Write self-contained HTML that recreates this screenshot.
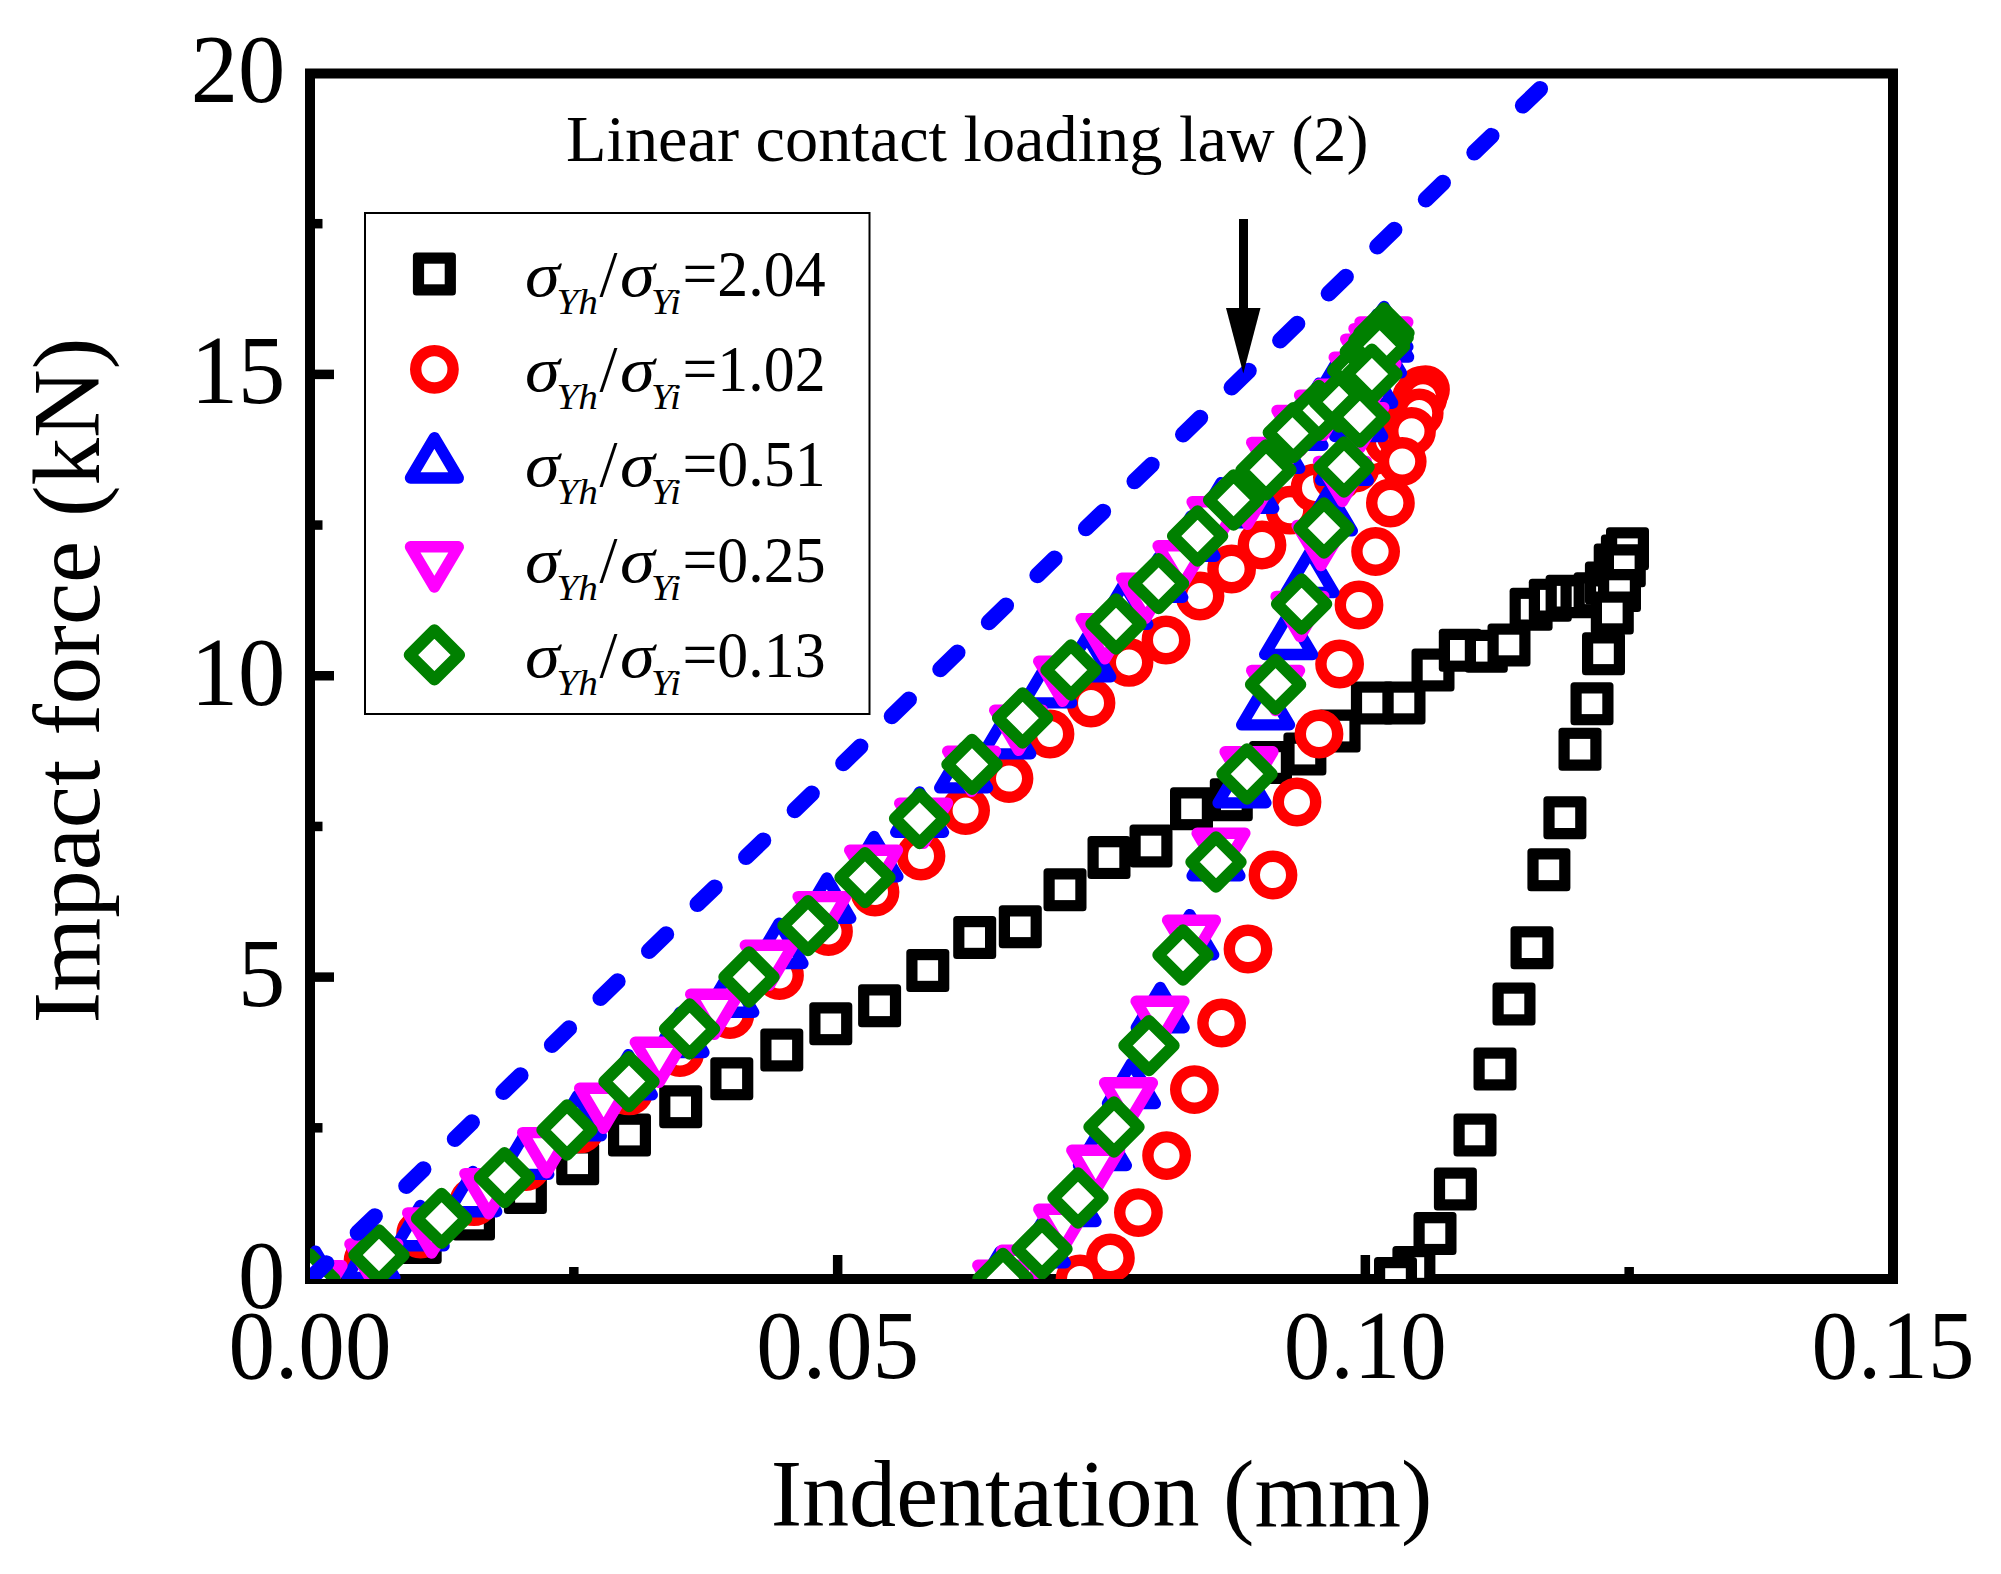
<!DOCTYPE html>
<html lang="en">
<head>
<meta charset="utf-8">
<title>Impact force vs indentation</title>
<style>
html,body{margin:0;padding:0;background:#fff;}
body{width:2001px;height:1574px;overflow:hidden;}
svg{display:block;}
text{font-family:"Liberation Serif","Times New Roman",Times,serif;fill:#000;}
.tk{font-size:98px;}
.ax{font-size:95px;}
.an{font-size:66.3px;}
.li{font-size:64px;font-style:italic;}
.lr{font-size:64.6px;}
.ls{font-size:35px;font-style:italic;}
</style>
</head>
<body>
<svg width="2001" height="1574" viewBox="0 0 2001 1574">
<defs>
<clipPath id="pc"><rect x="310.0" y="73.5" width="1583.0" height="1205.5"/></clipPath>
<g id="sq"><rect x="-21.5" y="-21.5" width="43" height="43" rx="3.5" ry="3.5" fill="#000"/><rect x="-10.3" y="-10.3" width="20.6" height="20.6" fill="#fff"/></g>
<circle id="ci" r="18.7" fill="#fff" stroke="#f00" stroke-width="11.4"/>
<path id="tu" d="M0,-26.9 L23.9,13.4 L-23.9,13.4 Z" fill="#fff" stroke="#00f" stroke-width="11.4" stroke-linejoin="round"/>
<path id="td" d="M0,26.9 L23.9,-13.3 L-23.9,-13.3 Z" fill="#fff" stroke="#f0f" stroke-width="11.4" stroke-linejoin="round"/>
<path id="di" d="M0,-24.7 L24.7,0 L0,24.7 L-24.7,0 Z" fill="#fff" stroke="#008000" stroke-width="12" stroke-linejoin="round"/>
</defs>
<rect width="2001" height="1574" fill="#fff"/>
<!-- frame and ticks -->
<rect x="310.0" y="73.5" width="1583.0" height="1205.5" fill="none" stroke="#000" stroke-width="10"/>
<g stroke="#000" stroke-width="9.5">
<line x1="310" y1="1127.81" x2="322.5" y2="1127.81"/>
<line x1="310" y1="977.12" x2="334.0" y2="977.12"/>
<line x1="310" y1="826.44" x2="322.5" y2="826.44"/>
<line x1="310" y1="675.75" x2="334.0" y2="675.75"/>
<line x1="310" y1="525.06" x2="322.5" y2="525.06"/>
<line x1="310" y1="374.38" x2="334.0" y2="374.38"/>
<line x1="310" y1="223.69" x2="322.5" y2="223.69"/>
<line x1="573.83" y1="1279" x2="573.83" y2="1267"/>
<line x1="837.67" y1="1279" x2="837.67" y2="1255"/>
<line x1="1101.50" y1="1279" x2="1101.50" y2="1267"/>
<line x1="1365.33" y1="1279" x2="1365.33" y2="1255"/>
<line x1="1629.17" y1="1279" x2="1629.17" y2="1267"/>
</g>
<!-- tick labels -->
<text class="tk" text-anchor="end" transform="translate(285.2,1307.5) scale(0.965,1)">0</text>
<text class="tk" text-anchor="end" transform="translate(285.2,1006.1) scale(0.965,1)">5</text>
<text class="tk" text-anchor="end" transform="translate(285.2,704.8) scale(0.965,1)">10</text>
<text class="tk" text-anchor="end" transform="translate(285.2,403.4) scale(0.965,1)">15</text>
<text class="tk" text-anchor="end" transform="translate(285.2,102.0) scale(0.965,1)">20</text>
<text class="tk" text-anchor="middle" transform="translate(310.0,1377.7) scale(0.95,1)">0.00</text>
<text class="tk" text-anchor="middle" transform="translate(837.7,1377.7) scale(0.95,1)">0.05</text>
<text class="tk" text-anchor="middle" transform="translate(1365.3,1377.7) scale(0.95,1)">0.10</text>
<text class="tk" text-anchor="middle" transform="translate(1893.0,1377.7) scale(0.95,1)">0.15</text>
<!-- axis titles -->
<text class="ax" style="font-size:94.2px" text-anchor="middle" x="1101.5" y="1526">Indentation (mm)</text>
<text class="ax" text-anchor="middle" transform="translate(98.6,680.5) rotate(-90)">Impact force (kN)</text>
<!-- data -->
<g clip-path="url(#pc)">
<g>
<use href="#sq" x="310.0" y="1279.0"/>
<use href="#sq" x="368.0" y="1265.0"/>
<use href="#sq" x="420.2" y="1242.4"/>
<use href="#sq" x="473.5" y="1219.0"/>
<use href="#sq" x="525.4" y="1192.4"/>
<use href="#sq" x="577.7" y="1163.8"/>
<use href="#sq" x="629.5" y="1135.1"/>
<use href="#sq" x="680.7" y="1106.8"/>
<use href="#sq" x="731.8" y="1078.8"/>
<use href="#sq" x="781.8" y="1050.0"/>
<use href="#sq" x="830.8" y="1023.8"/>
<use href="#sq" x="879.6" y="1005.8"/>
<use href="#sq" x="927.8" y="970.5"/>
<use href="#sq" x="974.7" y="937.5"/>
<use href="#sq" x="1020.3" y="926.8"/>
<use href="#sq" x="1065.0" y="889.8"/>
<use href="#sq" x="1109.0" y="857.6"/>
<use href="#sq" x="1151.0" y="846.0"/>
<use href="#sq" x="1191.5" y="808.8"/>
<use href="#sq" x="1231.3" y="799.8"/>
<use href="#sq" x="1270.5" y="762.5"/>
<use href="#sq" x="1304.9" y="754.1"/>
<use href="#sq" x="1339.1" y="731.1"/>
<use href="#sq" x="1372.4" y="703.0"/>
<use href="#sq" x="1404.0" y="703.0"/>
<use href="#sq" x="1433.0" y="670.0"/>
<use href="#sq" x="1460.3" y="650.3"/>
<use href="#sq" x="1486.3" y="651.3"/>
<use href="#sq" x="1509.0" y="645.0"/>
<use href="#sq" x="1531.1" y="609.2"/>
<use href="#sq" x="1550.3" y="600.2"/>
<use href="#sq" x="1567.1" y="596.2"/>
<use href="#sq" x="1582.0" y="596.7"/>
<use href="#sq" x="1595.1" y="593.8"/>
<use href="#sq" x="1606.4" y="583.1"/>
<use href="#sq" x="1615.2" y="565.0"/>
<use href="#sq" x="1622.4" y="555.9"/>
<use href="#sq" x="1627.5" y="548.7"/>
<use href="#sq" x="1624.3" y="565.8"/>
<use href="#sq" x="1619.5" y="590.6"/>
<use href="#sq" x="1612.3" y="613.0"/>
<use href="#sq" x="1603.5" y="653.8"/>
<use href="#sq" x="1592.0" y="703.8"/>
<use href="#sq" x="1580.0" y="749.2"/>
<use href="#sq" x="1564.9" y="817.7"/>
<use href="#sq" x="1548.9" y="869.8"/>
<use href="#sq" x="1532.0" y="947.7"/>
<use href="#sq" x="1514.0" y="1004.0"/>
<use href="#sq" x="1495.0" y="1069.0"/>
<use href="#sq" x="1475.0" y="1135.0"/>
<use href="#sq" x="1455.4" y="1189.0"/>
<use href="#sq" x="1435.0" y="1233.6"/>
<use href="#sq" x="1413.9" y="1267.5"/>
<use href="#sq" x="1395.5" y="1278.5"/>
</g>
<g>
<use href="#ci" x="310.0" y="1279.0"/>
<use href="#ci" x="368.0" y="1261.0"/>
<use href="#ci" x="420.6" y="1234.0"/>
<use href="#ci" x="473.9" y="1201.7"/>
<use href="#ci" x="526.0" y="1166.6"/>
<use href="#ci" x="580.0" y="1128.9"/>
<use href="#ci" x="629.0" y="1090.9"/>
<use href="#ci" x="679.9" y="1052.5"/>
<use href="#ci" x="729.9" y="1014.5"/>
<use href="#ci" x="779.5" y="975.5"/>
<use href="#ci" x="828.5" y="931.5"/>
<use href="#ci" x="875.0" y="892.0"/>
<use href="#ci" x="921.0" y="856.0"/>
<use href="#ci" x="965.6" y="810.6"/>
<use href="#ci" x="1009.0" y="778.6"/>
<use href="#ci" x="1050.0" y="734.0"/>
<use href="#ci" x="1091.0" y="703.0"/>
<use href="#ci" x="1129.0" y="662.4"/>
<use href="#ci" x="1166.0" y="640.0"/>
<use href="#ci" x="1200.0" y="596.0"/>
<use href="#ci" x="1231.6" y="569.0"/>
<use href="#ci" x="1262.0" y="545.0"/>
<use href="#ci" x="1290.1" y="510.2"/>
<use href="#ci" x="1315.0" y="487.9"/>
<use href="#ci" x="1337.4" y="477.2"/>
<use href="#ci" x="1355.0" y="468.0"/>
<use href="#ci" x="1372.0" y="451.0"/>
<use href="#ci" x="1389.0" y="441.0"/>
<use href="#ci" x="1401.0" y="435.0"/>
<use href="#ci" x="1408.0" y="424.0"/>
<use href="#ci" x="1412.0" y="410.0"/>
<use href="#ci" x="1416.5" y="398.0"/>
<use href="#ci" x="1421.5" y="390.5"/>
<use href="#ci" x="1425.5" y="389.6"/>
<use href="#ci" x="1423.0" y="397.3"/>
<use href="#ci" x="1419.2" y="413.0"/>
<use href="#ci" x="1411.5" y="431.3"/>
<use href="#ci" x="1402.2" y="461.5"/>
<use href="#ci" x="1390.4" y="503.0"/>
<use href="#ci" x="1375.6" y="551.5"/>
<use href="#ci" x="1359.0" y="605.0"/>
<use href="#ci" x="1339.6" y="664.0"/>
<use href="#ci" x="1319.0" y="734.0"/>
<use href="#ci" x="1297.0" y="802.0"/>
<use href="#ci" x="1273.0" y="875.0"/>
<use href="#ci" x="1248.0" y="949.0"/>
<use href="#ci" x="1221.6" y="1023.0"/>
<use href="#ci" x="1194.4" y="1089.6"/>
<use href="#ci" x="1166.6" y="1155.6"/>
<use href="#ci" x="1138.4" y="1212.6"/>
<use href="#ci" x="1110.4" y="1258.0"/>
<use href="#ci" x="1080.0" y="1279.0"/>
</g>
<g>
<use href="#tu" x="315.6" y="1278.0"/>
<use href="#tu" x="371.0" y="1264.0"/>
<use href="#tu" x="420.2" y="1232.4"/>
<use href="#tu" x="472.8" y="1198.3"/>
<use href="#tu" x="524.8" y="1161.0"/>
<use href="#tu" x="577.4" y="1122.5"/>
<use href="#tu" x="628.4" y="1081.5"/>
<use href="#tu" x="680.0" y="1039.1"/>
<use href="#tu" x="729.8" y="998.9"/>
<use href="#tu" x="779.0" y="950.1"/>
<use href="#tu" x="826.8" y="904.9"/>
<use href="#tu" x="874.0" y="863.3"/>
<use href="#tu" x="919.6" y="818.9"/>
<use href="#tu" x="963.6" y="774.5"/>
<use href="#tu" x="1006.8" y="740.5"/>
<use href="#tu" x="1047.8" y="689.5"/>
<use href="#tu" x="1086.8" y="663.5"/>
<use href="#tu" x="1123.8" y="610.9"/>
<use href="#tu" x="1158.8" y="583.9"/>
<use href="#tu" x="1191.0" y="542.9"/>
<use href="#tu" x="1221.0" y="509.5"/>
<use href="#tu" x="1249.8" y="494.9"/>
<use href="#tu" x="1275.8" y="454.9"/>
<use href="#tu" x="1299.0" y="432.0"/>
<use href="#tu" x="1319.0" y="410.0"/>
<use href="#tu" x="1336.0" y="390.0"/>
<use href="#tu" x="1350.0" y="373.0"/>
<use href="#tu" x="1361.0" y="359.0"/>
<use href="#tu" x="1370.0" y="349.0"/>
<use href="#tu" x="1377.0" y="341.0"/>
<use href="#tu" x="1382.0" y="336.0"/>
<use href="#tu" x="1384.0" y="333.4"/>
<use href="#tu" x="1384.7" y="343.6"/>
<use href="#tu" x="1377.5" y="359.5"/>
<use href="#tu" x="1368.8" y="389.8"/>
<use href="#tu" x="1358.6" y="423.1"/>
<use href="#tu" x="1344.4" y="466.9"/>
<use href="#tu" x="1328.4" y="517.5"/>
<use href="#tu" x="1309.8" y="579.1"/>
<use href="#tu" x="1288.6" y="641.1"/>
<use href="#tu" x="1265.6" y="711.5"/>
<use href="#tu" x="1242.0" y="789.5"/>
<use href="#tu" x="1216.0" y="862.5"/>
<use href="#tu" x="1189.8" y="941.5"/>
<use href="#tu" x="1160.2" y="1014.3"/>
<use href="#tu" x="1131.4" y="1090.1"/>
<use href="#tu" x="1102.4" y="1152.1"/>
<use href="#tu" x="1072.0" y="1208.1"/>
<use href="#tu" x="1041.4" y="1249.5"/>
<use href="#tu" x="1000.0" y="1278.3"/>
</g>
<g>
<use href="#td" x="318.0" y="1279.0"/>
<use href="#td" x="373.8" y="1257.3"/>
<use href="#td" x="431.6" y="1226.2"/>
<use href="#td" x="488.8" y="1186.9"/>
<use href="#td" x="546.6" y="1145.9"/>
<use href="#td" x="603.6" y="1101.5"/>
<use href="#td" x="659.2" y="1055.5"/>
<use href="#td" x="714.6" y="1007.5"/>
<use href="#td" x="769.2" y="958.5"/>
<use href="#td" x="822.0" y="909.9"/>
<use href="#td" x="873.6" y="863.5"/>
<use href="#td" x="923.6" y="816.5"/>
<use href="#td" x="971.6" y="764.5"/>
<use href="#td" x="1018.6" y="723.5"/>
<use href="#td" x="1062.6" y="674.5"/>
<use href="#td" x="1105.0" y="632.0"/>
<use href="#td" x="1145.6" y="591.5"/>
<use href="#td" x="1182.0" y="559.1"/>
<use href="#td" x="1216.0" y="515.1"/>
<use href="#td" x="1247.6" y="497.5"/>
<use href="#td" x="1275.6" y="455.7"/>
<use href="#td" x="1300.9" y="423.8"/>
<use href="#td" x="1323.5" y="408.5"/>
<use href="#td" x="1342.7" y="397.5"/>
<use href="#td" x="1358.1" y="370.5"/>
<use href="#td" x="1369.6" y="352.4"/>
<use href="#td" x="1377.9" y="341.9"/>
<use href="#td" x="1383.9" y="335.3"/>
<use href="#td" x="1380.0" y="348.0"/>
<use href="#td" x="1372.0" y="377.0"/>
<use href="#td" x="1360.0" y="421.0"/>
<use href="#td" x="1342.4" y="474.7"/>
<use href="#td" x="1321.0" y="538.7"/>
<use href="#td" x="1300.0" y="609.7"/>
<use href="#td" x="1275.6" y="683.7"/>
<use href="#td" x="1249.0" y="765.1"/>
<use href="#td" x="1221.0" y="846.5"/>
<use href="#td" x="1191.5" y="933.5"/>
<use href="#td" x="1160.0" y="1014.5"/>
<use href="#td" x="1128.5" y="1096.1"/>
<use href="#td" x="1095.7" y="1163.5"/>
<use href="#td" x="1062.7" y="1222.5"/>
<use href="#td" x="1025.6" y="1263.5"/>
<use href="#td" x="1001.7" y="1278.5"/>
</g>
<g>
<use href="#di" x="310.0" y="1279.0"/>
<use href="#di" x="379.0" y="1255.0"/>
<use href="#di" x="441.6" y="1218.4"/>
<use href="#di" x="504.5" y="1177.6"/>
<use href="#di" x="567.0" y="1130.0"/>
<use href="#di" x="629.0" y="1081.6"/>
<use href="#di" x="689.6" y="1029.0"/>
<use href="#di" x="749.0" y="977.0"/>
<use href="#di" x="808.0" y="925.6"/>
<use href="#di" x="865.0" y="877.6"/>
<use href="#di" x="919.6" y="818.6"/>
<use href="#di" x="972.0" y="764.4"/>
<use href="#di" x="1022.6" y="718.0"/>
<use href="#di" x="1071.0" y="670.0"/>
<use href="#di" x="1116.0" y="624.0"/>
<use href="#di" x="1158.6" y="583.6"/>
<use href="#di" x="1197.6" y="536.0"/>
<use href="#di" x="1233.6" y="500.0"/>
<use href="#di" x="1266.0" y="470.0"/>
<use href="#di" x="1293.3" y="432.6"/>
<use href="#di" x="1318.8" y="410.4"/>
<use href="#di" x="1339.0" y="402.0"/>
<use href="#di" x="1357.6" y="370.3"/>
<use href="#di" x="1370.3" y="351.6"/>
<use href="#di" x="1379.0" y="340.0"/>
<use href="#di" x="1384.0" y="332.9"/>
<use href="#di" x="1383.2" y="337.5"/>
<use href="#di" x="1379.6" y="346.5"/>
<use href="#di" x="1371.9" y="374.1"/>
<use href="#di" x="1359.8" y="417.0"/>
<use href="#di" x="1344.0" y="467.0"/>
<use href="#di" x="1324.0" y="528.0"/>
<use href="#di" x="1301.6" y="604.0"/>
<use href="#di" x="1275.6" y="684.4"/>
<use href="#di" x="1247.0" y="774.0"/>
<use href="#di" x="1216.0" y="862.0"/>
<use href="#di" x="1183.0" y="955.0"/>
<use href="#di" x="1149.0" y="1045.6"/>
<use href="#di" x="1114.0" y="1127.0"/>
<use href="#di" x="1078.0" y="1198.0"/>
<use href="#di" x="1042.0" y="1249.0"/>
<use href="#di" x="1003.0" y="1278.5"/>
</g>
<line x1="310.0" y1="1279.0" x2="1540.3956153028469" y2="88.59224219449538" stroke="#00f" stroke-width="16" stroke-linecap="round" stroke-dasharray="24 43.55" stroke-dashoffset="1.2"/>
</g>
<!-- annotation -->
<text class="an" x="566" y="161">Linear contact loading law (2)</text>
<path d="M1243.5,219 V310" stroke="#000" stroke-width="9" fill="none"/>
<path d="M1226,308 L1260.5,308 L1243.3,373.5 Z" fill="#000"/>
<!-- legend -->
<rect x="365" y="213" width="504.5" height="501" fill="#fff" stroke="#000" stroke-width="2"/>
<use href="#sq" x="434.4" y="274.0"/>
<text class="li" transform="translate(525,296.3) scale(1.1,1)">σ</text>
<text class="ls" transform="translate(556.5,314.3) scale(1.12,1)">Yh</text>
<text class="lr" x="599.5" y="296.3">/</text>
<text class="li" transform="translate(620,296.3) scale(1.1,1)">σ</text>
<text class="ls" transform="translate(651,314.3) scale(1.12,1)">Yi</text>
<text class="lr" transform="translate(682.5,296.3) scale(0.957,1)">=2.04</text>
<use href="#ci" x="434.4" y="369.3"/>
<text class="li" transform="translate(525,391.2) scale(1.1,1)">σ</text>
<text class="ls" transform="translate(556.5,409.2) scale(1.12,1)">Yh</text>
<text class="lr" x="599.5" y="391.2">/</text>
<text class="li" transform="translate(620,391.2) scale(1.1,1)">σ</text>
<text class="ls" transform="translate(651,409.2) scale(1.12,1)">Yi</text>
<text class="lr" transform="translate(682.5,391.2) scale(0.957,1)">=1.02</text>
<use href="#tu" x="434.4" y="464.6"/>
<text class="li" transform="translate(525,486.2) scale(1.1,1)">σ</text>
<text class="ls" transform="translate(556.5,504.2) scale(1.12,1)">Yh</text>
<text class="lr" x="599.5" y="486.2">/</text>
<text class="li" transform="translate(620,486.2) scale(1.1,1)">σ</text>
<text class="ls" transform="translate(651,504.2) scale(1.12,1)">Yi</text>
<text class="lr" transform="translate(682.5,486.2) scale(0.957,1)">=0.51</text>
<use href="#td" x="434.4" y="560.1"/>
<text class="li" transform="translate(525,581.6) scale(1.1,1)">σ</text>
<text class="ls" transform="translate(556.5,599.6) scale(1.12,1)">Yh</text>
<text class="lr" x="599.5" y="581.6">/</text>
<text class="li" transform="translate(620,581.6) scale(1.1,1)">σ</text>
<text class="ls" transform="translate(651,599.6) scale(1.12,1)">Yi</text>
<text class="lr" transform="translate(682.5,581.6) scale(0.957,1)">=0.25</text>
<use href="#di" x="434.4" y="654.9"/>
<text class="li" transform="translate(525,676.7) scale(1.1,1)">σ</text>
<text class="ls" transform="translate(556.5,694.7) scale(1.12,1)">Yh</text>
<text class="lr" x="599.5" y="676.7">/</text>
<text class="li" transform="translate(620,676.7) scale(1.1,1)">σ</text>
<text class="ls" transform="translate(651,694.7) scale(1.12,1)">Yi</text>
<text class="lr" transform="translate(682.5,676.7) scale(0.957,1)">=0.13</text>
</svg>
</body>
</html>
